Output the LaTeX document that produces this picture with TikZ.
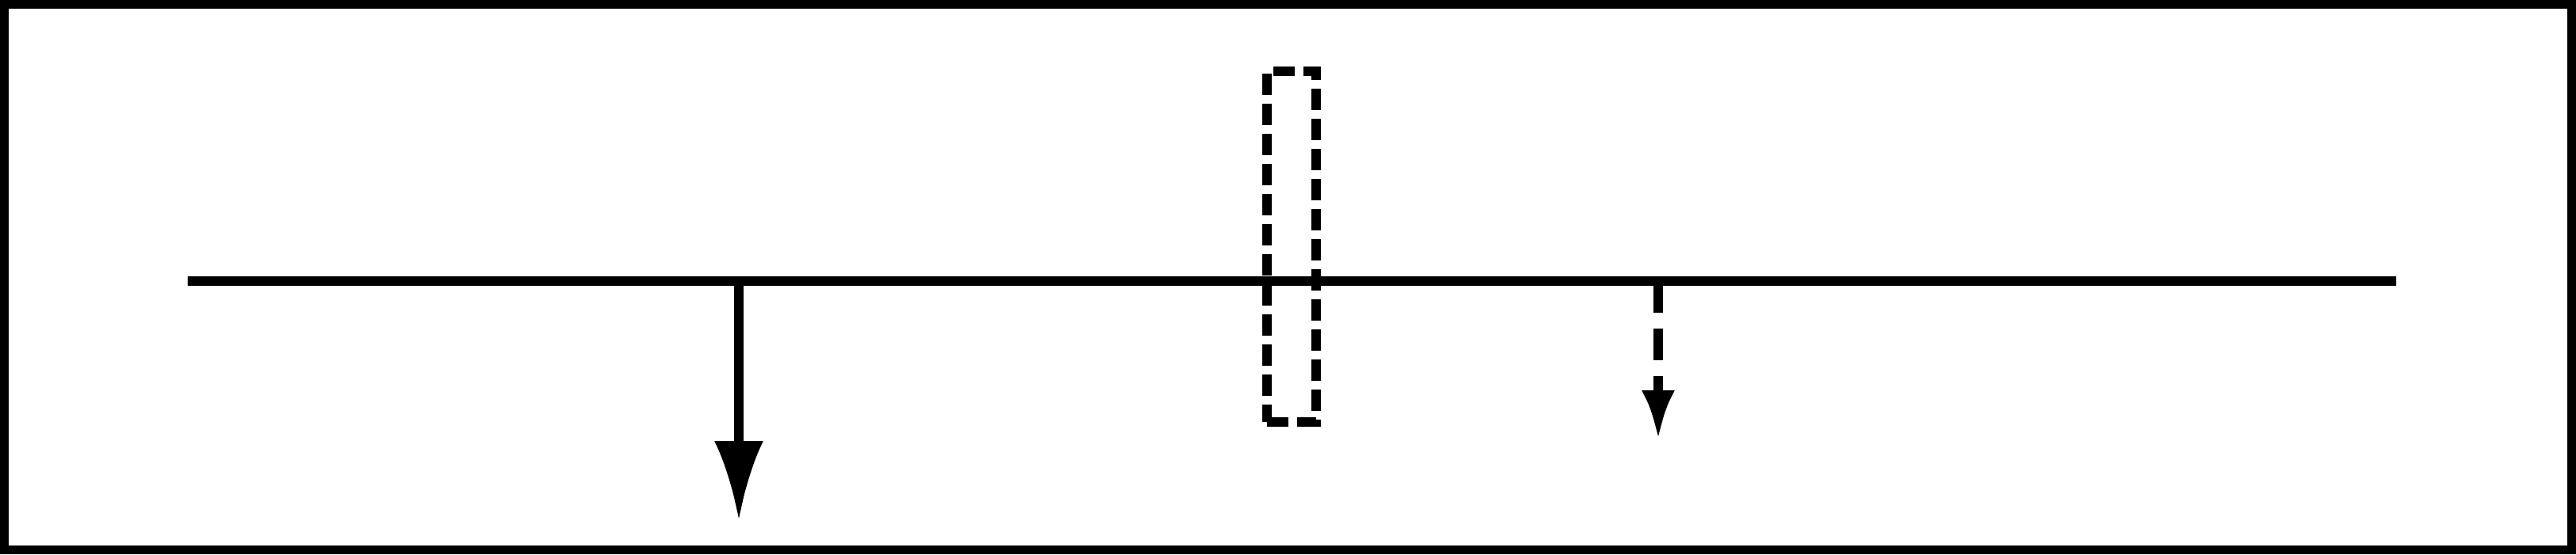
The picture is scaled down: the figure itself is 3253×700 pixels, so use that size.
\documentclass[tikz,border=0pt]{standalone}
\usepackage{tikz}
\usetikzlibrary{positioning, arrows.meta, calc}

\begin{document}
\begin{tikzpicture}[x=0.1mm, y=-0.1mm, line width=1.15mm]
    \useasboundingbox (0,0) rectangle (3253,700);
    \draw[line width=1.1mm] (5.5,5.5) rectangle (3247.5,694.5);
    \coordinate (west) at (237,355);
    \coordinate (east) at (3026,355);
    \draw (west) -- (east);
    \coordinate (t1) at (933,355);
    \coordinate[below = 30.2mm of t1] (h1);
    \draw[-{Latex[length=10mm, width=6.2mm]}] (t1) -- (h1);
    \node[draw, dash pattern=on 2.7mm off 1.1mm, minimum width=6.2mm, minimum height=44.3mm, inner sep=0pt] (gate) at (1631,311.5) {};
    \coordinate (t2) at (2094,355);
    \coordinate[below = 20mm of t2] (h2);
    \draw[dash pattern=on 4mm off 2mm, -{Latex[length=6.2mm, width=4.2mm]}] (t2) -- (h2);
\end{tikzpicture}
\end{document}
